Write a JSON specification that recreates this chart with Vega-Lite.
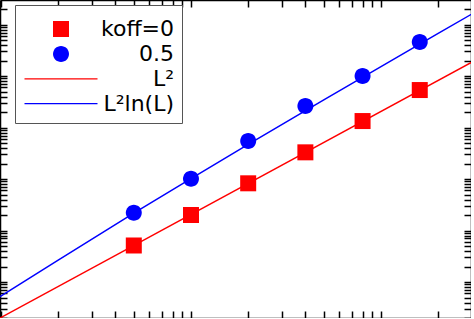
{
  "$schema": "https://vega.github.io/schema/vega-lite/v6.json",
  "width": 471,
  "height": 318,
  "padding": 0,
  "autosize": {"type": "none"},
  "background": "white",
  "config": {
    "view": {"stroke": null},
    "axis": {
      "domainColor": "#000000",
      "domainWidth": 1.5,
      "tickColor": "#000000",
      "tickWidth": 1.5,
      "labels": false,
      "grid": false,
      "title": null
    },
    "legend": {
      "orient": "none", "legendX": 15, "legendY": 5,
      "titleFontSize": 1, "titlePadding": 4,
      "padding": 8, "strokeColor": "#555555", "fillColor": "#ffffff",
      "labelFont": "DejaVu Sans", "labelFontSize": 22, "labelColor": "#000000",
      "labelAlign": "right", "labelOffset": 102, "labelLimit": 0,
      "rowPadding": 2.9, "symbolOffset": 27, "symbolStrokeWidth": 0, "symbolSize": 100
    }
  },
  "data": {
    "values": [
      {"kind": "line", "series": "L²", "L": 9.5, "v": 18.5},
      {"kind": "line", "series": "L²", "L": 3100, "v": 1969000},
      {"kind": "line", "series": "L²ln(L)", "L": 9.5, "v": 47.4},
      {"kind": "line", "series": "L²ln(L)", "L": 20, "v": 265.5},
      {"kind": "line", "series": "L²ln(L)", "L": 50, "v": 2167},
      {"kind": "line", "series": "L²ln(L)", "L": 100, "v": 10205},
      {"kind": "line", "series": "L²ln(L)", "L": 200, "v": 46964},
      {"kind": "line", "series": "L²ln(L)", "L": 500, "v": 344300},
      {"kind": "line", "series": "L²ln(L)", "L": 1000, "v": 1530800},
      {"kind": "line", "series": "L²ln(L)", "L": 2000, "v": 6737000},
      {"kind": "line", "series": "L²ln(L)", "L": 3100, "v": 17100000},
      {"kind": "point", "series": "koff=0", "L": 50, "v": 512},
      {"kind": "point", "series": "koff=0", "L": 100, "v": 2000},
      {"kind": "point", "series": "koff=0", "L": 200, "v": 8260},
      {"kind": "point", "series": "koff=0", "L": 400, "v": 33000},
      {"kind": "point", "series": "koff=0", "L": 800, "v": 133700},
      {"kind": "point", "series": "koff=0", "L": 1600, "v": 535000},
      {"kind": "point", "series": "0.5", "L": 50, "v": 2218},
      {"kind": "point", "series": "0.5", "L": 100, "v": 10140},
      {"kind": "point", "series": "0.5", "L": 200, "v": 54700},
      {"kind": "point", "series": "0.5", "L": 400, "v": 261400},
      {"kind": "point", "series": "0.5", "L": 800, "v": 1000000},
      {"kind": "point", "series": "0.5", "L": 1600, "v": 4570000}
    ]
  },
  "layer": [
    {
      "transform": [{"filter": "datum.kind === 'line'"}],
      "mark": {"type": "line", "strokeWidth": 1.5, "clip": true},
      "encoding": {
        "x": {
          "field": "L", "type": "quantitative",
          "scale": {"type": "log", "domain": [9.88, 2977]},
          "axis": {
            "orient": "top", "labels": false, "tickSize": -7,
            "values": [10,20,30,40,50,60,70,80,90,100,200,300,400,500,600,700,800,900,1000,2000],
            "encode": {"ticks": {"update": {"y2": {"signal": "indexof([10,100,1000], datum.value) >= 0 ? 7 : 4"}}}}
          }
        },
        "y": {
          "field": "v", "type": "quantitative",
          "scale": {"type": "log", "domain": [20, 30000000]},
          "axis": {
            "orient": "right", "labels": false, "tickSize": -7,
            "values": [20,30,40,50,60,70,80,90,100,200,300,400,500,600,700,800,900,1000,2000,3000,4000,5000,6000,7000,8000,9000,10000,20000,30000,40000,50000,60000,70000,80000,90000,100000,200000,300000,400000,500000,600000,700000,800000,900000,1000000,2000000,3000000,4000000,5000000,6000000,7000000,8000000,9000000,10000000,20000000],
            "encode": {"ticks": {"update": {"x2": {"signal": "indexof([100,1000,10000,100000,1000000,10000000], datum.value) >= 0 ? -7 : -4"}}}}
          }
        },
        "stroke": {"field": "series", "type": "nominal", "legend": null,
          "scale": {"domain": ["L²", "L²ln(L)"], "range": ["#ff0000", "#0000ff"]}},
        "detail": {"field": "series"}
      }
    },
    {
      "transform": [{"filter": "datum.kind === 'point'"}],
      "mark": {"type": "point", "filled": true, "opacity": 1, "size": 100},
      "encoding": {
        "x": {
          "field": "L", "type": "quantitative",
          "scale": {"type": "log", "domain": [9.88, 2977]},
          "axis": {
            "orient": "bottom", "labels": false, "tickSize": -7,
            "values": [10,20,30,40,50,60,70,80,90,100,200,300,400,500,600,700,800,900,1000,2000],
            "encode": {"ticks": {"update": {"y2": {"signal": "indexof([10,100,1000], datum.value) >= 0 ? -7 : -4"}}}}
          }
        },
        "y": {
          "field": "v", "type": "quantitative",
          "scale": {"type": "log", "domain": [20, 30000000]},
          "axis": {
            "orient": "left", "labels": false, "tickSize": -7,
            "values": [20,30,40,50,60,70,80,90,100,200,300,400,500,600,700,800,900,1000,2000,3000,4000,5000,6000,7000,8000,9000,10000,20000,30000,40000,50000,60000,70000,80000,90000,100000,200000,300000,400000,500000,600000,700000,800000,900000,1000000,2000000,3000000,4000000,5000000,6000000,7000000,8000000,9000000,10000000,20000000],
            "encode": {"ticks": {"update": {"x2": {"signal": "indexof([100,1000,10000,100000,1000000,10000000], datum.value) >= 0 ? 7 : 4"}}}}
          }
        },
        "color": {
          "field": "series", "type": "nominal", "title": " ",
          "scale": {"domain": ["koff=0", "0.5", "L²", "L²ln(L)"], "range": ["#ff0000", "#0000ff", "#ff0000", "#0000ff"]}
        },
        "shape": {
          "field": "series", "type": "nominal", "title": " ",
          "scale": {"domain": ["koff=0", "0.5", "L²", "L²ln(L)"], "range": ["M-1.6,-1.6L1.6,-1.6L1.6,1.6L-1.6,1.6Z", "M-1.6,0A1.6,1.6,0,1,0,1.6,0A1.6,1.6,0,1,0,-1.6,0Z", "M-7.3,-0.13L7.3,-0.13L7.3,0.13L-7.3,0.13Z", "M-7.3,-0.13L7.3,-0.13L7.3,0.13L-7.3,0.13Z"]}
        }
      }
    }
  ],
  "resolve": {"axis": {"x": "independent", "y": "independent"}}
}
